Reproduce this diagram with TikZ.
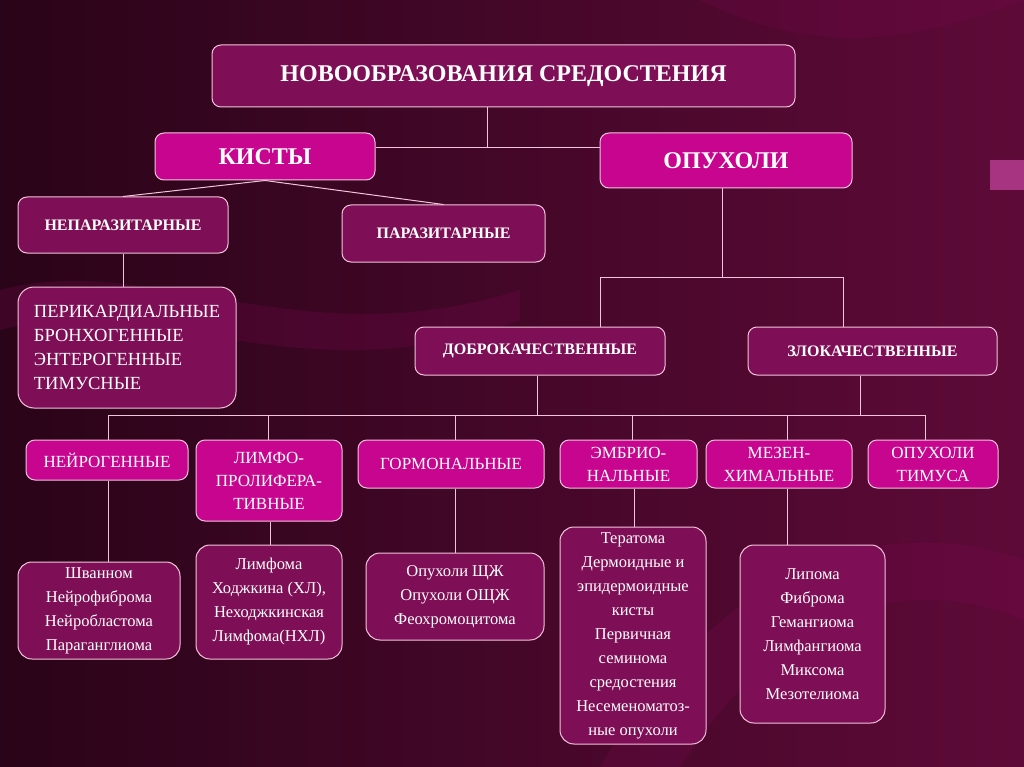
\documentclass[tikz,border=0pt]{standalone}
\usepackage{fontspec}
\setmainfont{Liberation Serif}
\definecolor{bgdark}{HTML}{2A0418}
\definecolor{bgmid}{HTML}{5E0A38}
\definecolor{boxdark}{HTML}{7E0E55}
\definecolor{boxmag}{HTML}{C7058F}
\definecolor{edge}{HTML}{F2C4DC}
\begin{document}
\begin{tikzpicture}[x=1pt,y=-1pt,
    box/.style={draw=edge, line width=1pt, rounded corners=9pt, text=white,
        align=center, inner sep=2pt},
    darkbox/.style={box, fill=boxdark},
    magbox/.style={box, fill=boxmag},
    link/.style={draw=edge, line width=1pt}]

    % background
    \shade[left color=bgdark, right color=bgmid] (0,0) rectangle (1024,767);
    \fill[bgmid!70!boxmag, opacity=0.25] (0,290) .. controls (150,250) and (300,360) .. (520,290)
        -- (520,320) .. controls (300,400) and (150,290) .. (0,330) -- cycle;
    \fill[bgmid!70!boxmag, opacity=0.25] (600,767) .. controls (700,600) and (850,500) .. (1024,560)
        -- (1024,620) .. controls (880,560) and (760,640) .. (680,767) -- cycle;
    \fill[bgmid!70!boxmag, opacity=0.2] (700,0) .. controls (820,60) and (920,40) .. (1024,0) -- cycle;
    \fill[boxmag!70, opacity=0.6] (990,160) rectangle (1024,190);
    \useasboundingbox (0,0) rectangle (1024,767);

    % top levels
    \tikzset{big/.style={font=\bfseries\fontsize{24}{28}\selectfont},
        mid/.style={font=\bfseries\fontsize{16}{19}\selectfont}}
    \node[darkbox, big, minimum width=583, minimum height=62] (top) at (503.5,76)
        {НОВООБРАЗОВАНИЯ СРЕДОСТЕНИЯ};
    \node[magbox, big, minimum width=220, minimum height=47] (cyst) at (265,156.5) {КИСТЫ};
    \node[magbox, big, minimum width=252, minimum height=55] (tum) at (726,160.5) {ОПУХОЛИ};
    \node[darkbox, mid, minimum width=210, minimum height=56] (nonpar) at (123,225) {НЕПАРАЗИТАРНЫЕ};
    \node[darkbox, mid, minimum width=203, minimum height=57] (par) at (443.5,233.5) {ПАРАЗИТАРНЫЕ};
    \node[darkbox, minimum width=218, minimum height=121, align=left, rounded corners=16pt,
        font=\fontsize{18.5}{24}\selectfont] (cystlist) at (127,347.5)
        {ПЕРИКАРДИАЛЬНЫЕ\\БРОНХОГЕННЫЕ\\ЭНТЕРОГЕННЫЕ\\ТИМУСНЫЕ};
    \node[darkbox, mid, minimum width=250, minimum height=48] (benign) at (540,351) {ДОБРОКАЧЕСТВЕННЫЕ};
    \node[darkbox, mid, minimum width=249, minimum height=48] (malign) at (872.5,351) {ЗЛОКАЧЕСТВЕННЫЕ};

    % groups
    \tikzset{grp/.style={magbox, font=\fontsize{17}{23}\selectfont, inner sep=1pt}}
    \node[grp, minimum width=162, minimum height=40] (neuro) at (107,460) {НЕЙРОГЕННЫЕ};
    \node[grp, minimum width=146, minimum height=81] (lymph) at (269,480.5) {ЛИМФО-\\ПРОЛИФЕРА-\\ТИВНЫЕ};
    \node[grp, minimum width=186, minimum height=48] (horm) at (451,464) {ГОРМОНАЛЬНЫЕ};
    \node[grp, minimum width=137, minimum height=48] (embr) at (628.5,464) {ЭМБРИО-\\НАЛЬНЫЕ};
    \node[grp, minimum width=146, minimum height=48] (mes) at (779,464) {МЕЗЕН-\\ХИМАЛЬНЫЕ};
    \node[grp, minimum width=130, minimum height=48] (thym) at (933,464) {ОПУХОЛИ\\ТИМУСА};

    % lists
    \tikzset{lst/.style={darkbox, font=\fontsize{16.5}{24}\selectfont, inner sep=1pt, rounded corners=14pt}}
    \node[lst, minimum width=162, minimum height=97] (l1) at (99,610.5)
        {Шванном\\Нейрофиброма\\Нейробластома\\Параганглиома};
    \node[lst, minimum width=146, minimum height=114] (l2) at (269,602)
        {Лимфома\\Ходжкина (ХЛ),\\Неходжкинская\\Лимфома(НХЛ)};
    \node[lst, minimum width=178, minimum height=87] (l3) at (455,596.5)
        {Опухоли ЩЖ\\Опухоли ОЩЖ\\Феохромоцитома};
    \node[lst, minimum width=146, minimum height=217] (l4) at (633,635.5)
        {Тератома\\Дермоидные и\\эпидермоидные\\кисты\\Первичная\\семинома\\средостения\\Несеменоматоз-\\ные опухоли};
    \node[lst, minimum width=145, minimum height=178] (l5) at (812.5,634)
        {Липома\\Фиброма\\Гемангиома\\Лимфангиома\\Миксома\\Мезотелиома};

    % connectors
    \coordinate (hub) at (487,148);
    \draw[link] (top.south -| hub) -- (hub);
    \draw[link] (cyst.east |- hub) -- (tum.west |- hub);
    \draw[link] (cyst.south) -- (nonpar.north);
    \draw[link] (cyst.south) -- (par.north);
    \draw[link] (nonpar.south) -- (cystlist.north -| nonpar.south);
    \coordinate (tsplit) at (722,277);
    \draw[link] (tum.south -| tsplit) -- (tsplit);
    \draw[link] (benign.north -| 600,0) -- (600,277) -- (843,277) -- (malign.north -| 843,0);
    \coordinate (bsplit) at (537,415);
    \draw[link] (benign.south -| bsplit) -- (bsplit);
    \draw[link] (malign.south -| 860,0) -- (860,415);
    \draw[link] (108,415) -- (925,415);
    \foreach \g/\x in {neuro/108, lymph/268, horm/455, embr/632, mes/787, thym/925}
        \draw[link] (\x,415) -- (\g.north -| \x,0);
    \foreach \g/\l/\x in {neuro/l1/108, lymph/l2/270, horm/l3/455, embr/l4/634, mes/l5/787}
        \draw[link] (\g.south -| \x,0) -- (\l.north -| \x,0);

\end{tikzpicture}
\end{document}
